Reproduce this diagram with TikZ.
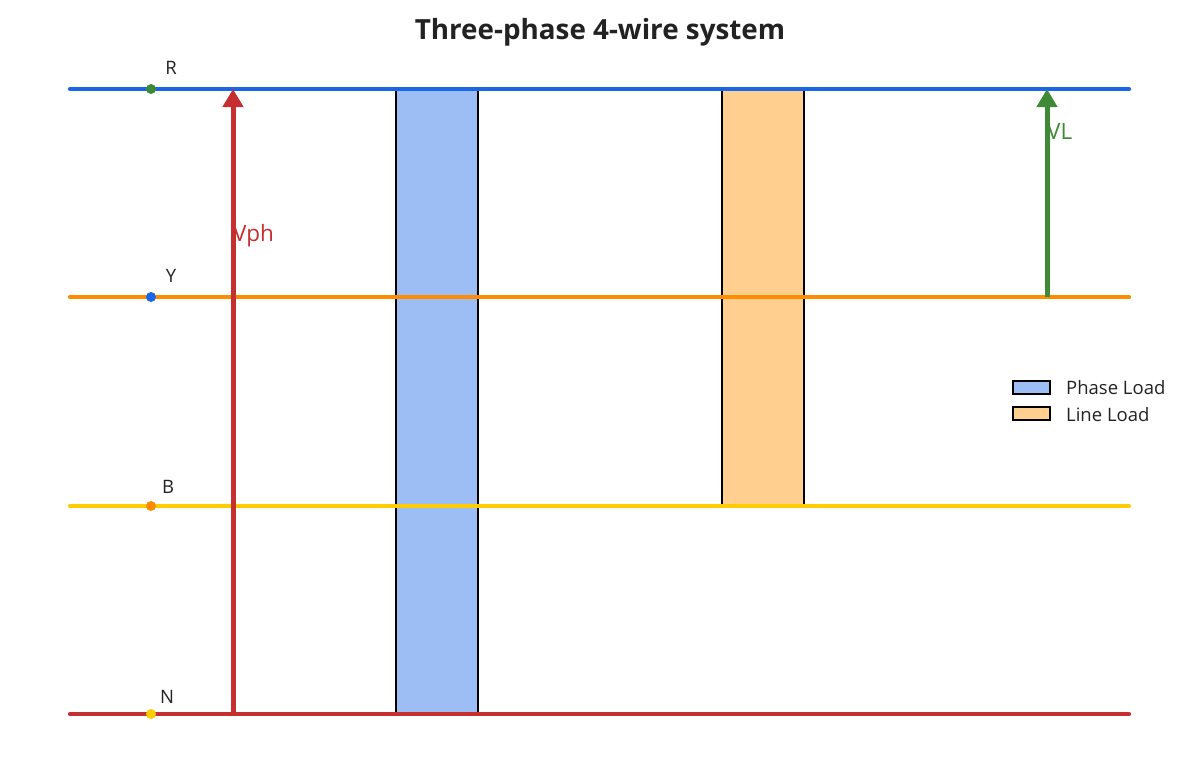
\documentclass[tikz,border=0pt]{standalone}
\usepackage{fontspec}
\setmainfont{Open Sans}
\usetikzlibrary{arrows.meta}
\definecolor{cR}{HTML}{1A66E8}
\definecolor{cY}{HTML}{FF8C00}
\definecolor{cB}{HTML}{FFCC00}
\definecolor{cN}{HTML}{C62F2F}
\definecolor{cG}{HTML}{3F8A36}
\definecolor{phfill}{HTML}{9CBEF5}
\definecolor{lnfill}{HTML}{FFCF90}
\definecolor{txt}{HTML}{222222}
\tikzset{
  wire/.style={line width=4.3pt, line cap=round},
  dotm/.style={circle, inner sep=0pt, minimum size=10pt},
  lbl/.style={font=\fontsize{18.5}{20}\selectfont, text=txt, inner sep=0pt},
  loadbox/.style={draw=black, line width=2pt},
  varrow/.style={line width=5pt, -{Triangle[length=18pt,width=20pt]}},
  legbox/.style={draw=black, line width=2pt, minimum width=37pt, minimum height=13pt, inner sep=0pt},
}
\begin{document}
\begin{tikzpicture}[x=1pt,y=-1pt]
\useasboundingbox (0,0) rectangle (1200,763);
% title
\node[font=\fontsize{27.8}{32}\selectfont\bfseries, text=txt] (title) at (600,32) {Three-phase 4-wire system};
% coordinates
\coordinate (Rl) at (70,89);  \coordinate (Rr) at (1129,89);
\coordinate (Yl) at (70,297); \coordinate (Yr) at (1129,297);
\coordinate (Bl) at (70,506); \coordinate (Br) at (1129,506);
\coordinate (Nl) at (70,714); \coordinate (Nr) at (1129,714);
% loads
\fill[phfill] (396,89) rectangle (478,714);
\draw[black, line width=2pt] (396,89) -- (396,714) (478,89) -- (478,714);
\fill[lnfill] (722,89) rectangle (804,506);
\draw[black, line width=2pt] (722,89) -- (722,506) (804,89) -- (804,506);
% wires
\draw[wire, cR] (Rl) -- (Rr);
\draw[wire, cY] (Yl) -- (Yr);
\draw[wire, cB] (Bl) -- (Br);
\draw[wire, cN] (Nl) -- (Nr);
% dots
\node[dotm, fill=cG] (dR) at (151,89) {};
\node[dotm, fill=cR] (dY) at (151,297) {};
\node[dotm, fill=cY] (dB) at (151,506) {};
\node[dotm, fill=cB] (dN) at (151,714) {};
% labels
\node[lbl] (lR) at (171,68) {R};
\node[lbl] (lY) at (171,276) {Y};
\node[lbl] (lB) at (168,487) {B};
\node[lbl] (lN) at (167,697) {N};
% arrows
\coordinate (vphS) at (233,714); \coordinate (vphE) at (233,89);
\draw[varrow, cN] (vphS) -- (vphE);
\node[font=\fontsize{22.5}{26}\selectfont, text=cN, anchor=west, inner sep=0pt] (vph) at (233,236) {Vph};
\coordinate (vlS) at (1047,297); \coordinate (vlE) at (1047,89);
\draw[varrow, cG] (vlS) -- (vlE);
\node[font=\fontsize{22.5}{26}\selectfont, text=cG, anchor=west, inner sep=0pt] (vl) at (1047,131) {VL};
% legend
\node[legbox, fill=phfill] (lg1) at (1031,387) {};
\node[lbl, anchor=west] (lg1t) at (1066,388) {Phase Load};
\node[legbox, fill=lnfill] (lg2) at (1031,413) {};
\node[lbl, anchor=west] (lg2t) at (1066,415) {Line Load};
\end{tikzpicture}
\end{document}
